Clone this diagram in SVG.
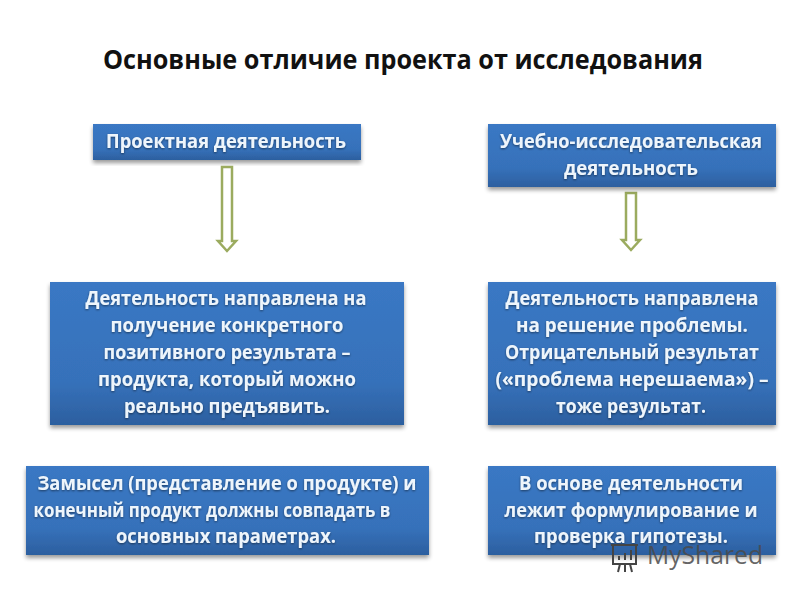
<svg xmlns="http://www.w3.org/2000/svg" width="800" height="600" viewBox="0 0 800 600">
<defs>
<linearGradient id="blue" x1="0" y1="0" x2="0" y2="1"><stop offset="0" stop-color="#3a78c4"/><stop offset="0.7" stop-color="#3671ba"/><stop offset="1" stop-color="#2c5f9f"/></linearGradient>
<filter id="sh" x="-5%" y="-10%" width="110%" height="125%"><feGaussianBlur in="SourceAlpha" stdDeviation="2"/><feOffset dy="3"/><feComponentTransfer><feFuncA type="linear" slope="0.4"/></feComponentTransfer><feMerge><feMergeNode/><feMergeNode in="SourceGraphic"/></feMerge></filter>
<filter id="ts" x="-5%" y="-20%" width="110%" height="140%"><feGaussianBlur in="SourceAlpha" stdDeviation="1"/><feOffset dy="1"/><feComponentTransfer><feFuncA type="linear" slope="0.5"/></feComponentTransfer><feMerge><feMergeNode/><feMergeNode in="SourceGraphic"/></feMerge></filter>
</defs>
<style>
.box{fill:url(#blue);filter:url(#sh)}
.t{font-family:"Open Sans","Liberation Sans",sans-serif;font-weight:700;font-size:19px;fill:#eef5fb;text-anchor:middle;filter:url(#ts)}
.title{font-family:"Open Sans","Liberation Sans",sans-serif;font-weight:700;font-size:26px;fill:#111;text-anchor:middle}
.arrow{fill:#fff;stroke:#9bab5f;stroke-width:2.5}
.wm{font-family:"Open Sans","Liberation Sans",sans-serif;font-size:25px;fill:#4a4a4a;fill-opacity:.85}
.ic{fill:none;stroke:#444;stroke-width:2}
</style>
<text class="title" x="403" y="69" textLength="600" lengthAdjust="spacingAndGlyphs">Основные отличие проекта от исследования</text>
<g id="connectors">
<path id="arrow-left" class="arrow" d="M222 167H232V241H236L227 251L218 241H222Z"/>
<path id="arrow-right" class="arrow" d="M626 193H636V240H640L631 250L622 240H626Z"/>
</g>
<g id="node-project">
<rect class="box" x="93" y="124" width="268" height="36"/>
<text class="t" x="226" y="148" textLength="240" lengthAdjust="spacingAndGlyphs">Проектная деятельность</text>
</g>
<g id="node-research">
<rect class="box" x="488" y="124" width="288" height="63"/>
<text class="t" x="631" y="148" textLength="262" lengthAdjust="spacingAndGlyphs">Учебно-исследовательская</text>
<text class="t" x="631" y="175" textLength="134" lengthAdjust="spacingAndGlyphs">деятельность</text>
</g>
<g id="node-project-result">
<rect class="box" x="50" y="282" width="354" height="143"/>
<text class="t" x="226" y="305" textLength="281" lengthAdjust="spacingAndGlyphs">Деятельность направлена на</text>
<text class="t" x="227" y="332" textLength="233" lengthAdjust="spacingAndGlyphs">получение конкретного</text>
<text class="t" x="227" y="359" textLength="247" lengthAdjust="spacingAndGlyphs">позитивного результата –</text>
<text class="t" x="227" y="386" textLength="258" lengthAdjust="spacingAndGlyphs">продукта, который можно</text>
<text class="t" x="227" y="413" textLength="206" lengthAdjust="spacingAndGlyphs">реально предъявить.</text>
</g>
<g id="node-research-result">
<rect class="box" x="488" y="282" width="288" height="143"/>
<text class="t" x="632" y="305" textLength="253" lengthAdjust="spacingAndGlyphs">Деятельность направлена</text>
<text class="t" x="632" y="332" textLength="232" lengthAdjust="spacingAndGlyphs">на решение проблемы.</text>
<text class="t" x="632" y="359" textLength="254" lengthAdjust="spacingAndGlyphs">Отрицательный результат</text>
<text class="t" x="632" y="386" textLength="273" lengthAdjust="spacingAndGlyphs">(«проблема нерешаема») –</text>
<text class="t" x="631" y="413" textLength="150" lengthAdjust="spacingAndGlyphs">тоже результат.</text>
</g>
<g id="node-project-idea">
<rect class="box" x="26" y="466" width="403" height="89"/>
<text class="t" x="227" y="490" textLength="379" lengthAdjust="spacingAndGlyphs">Замысел (представление о продукте) и</text>
<text class="t" x="212" y="517" textLength="357" lengthAdjust="spacingAndGlyphs">конечный продукт должны совпадать в</text>
<text class="t" x="226" y="543" textLength="220" lengthAdjust="spacingAndGlyphs">основных параметрах.</text>
</g>
<g id="node-research-basis">
<rect class="box" x="488" y="466" width="288" height="89"/>
<text class="t" x="631" y="490" textLength="224" lengthAdjust="spacingAndGlyphs">В основе деятельности</text>
<text class="t" x="631" y="517" textLength="253" lengthAdjust="spacingAndGlyphs">лежит формулирование и</text>
<text class="t" x="631" y="543" textLength="194" lengthAdjust="spacingAndGlyphs">проверка гипотезы.</text>
</g>
<g id="watermark">
<path class="ic" d="M611 545H638M613 545V564H636V545M620 564L618 572M630 564L632 572M625 564V572"/>
<path class="ic" d="M619 560V556M625 560V553M631 560V550"/>
<text class="wm" x="647" y="564" textLength="116" lengthAdjust="spacingAndGlyphs">MyShared</text>
</g>
</svg>
